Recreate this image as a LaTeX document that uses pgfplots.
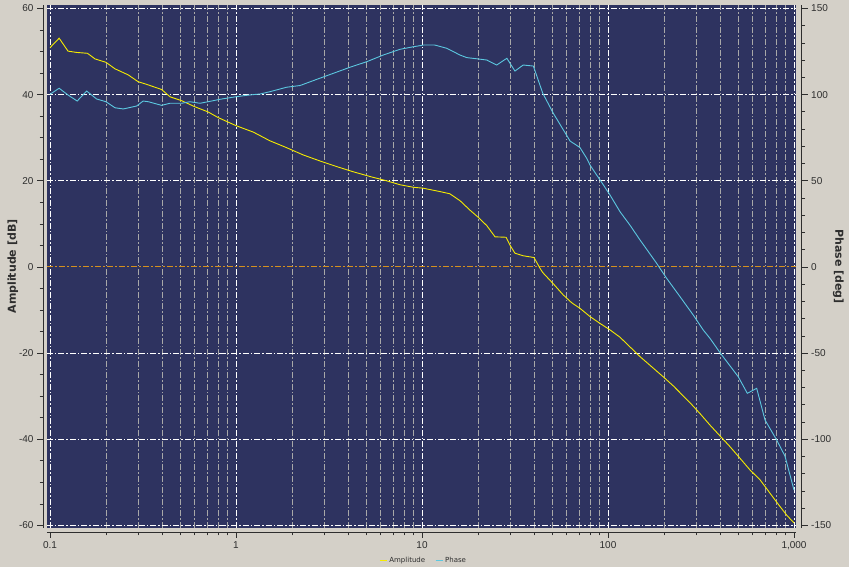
\documentclass[border=0pt]{standalone}
\usepackage{pgfplots}
\pgfplotsset{compat=1.18}
\usepackage{fontspec}
\setmainfont{Liberation Sans}
\newfontfamily\dvs{DejaVu Sans}
\definecolor{bgc}{HTML}{D4D0C8}
\definecolor{navy}{HTML}{2E3360}
\definecolor{amp}{HTML}{F5EB00}
\definecolor{pha}{HTML}{5CC8E0}
\definecolor{zer}{HTML}{D4901E}
\definecolor{gridmin}{HTML}{A8A8A8}
\definecolor{txt}{HTML}{2E2E2E}
\begin{document}
\begin{tikzpicture}
\fill[bgc] (0,0) rectangle (849pt,567pt);
\useasboundingbox (0,0) rectangle (849pt,567pt);
\begin{axis}[
  scale only axis, width=749pt, height=523pt,
  at={(47pt,39pt)}, anchor=south west,
  xmode=log, xmin=0.09636, xmax=1025,
  tick align=outside,
  major tick length=6pt, minor tick length=3.5pt,
  every tick/.style={txt, line width=0.8pt},
  axis line style={txt, line width=0.9pt, -},
  tick label style={font=\fontsize{10}{12}\selectfont, text=txt},
  label style={font=\dvs\bfseries\fontsize{11}{13}\selectfont, text=txt},
  axis x line*=bottom, axis y line*=left,
  axis x line shift=4pt, axis y line shift=4pt,
  axis background/.style={fill=navy},
  ymin=-60.58, ymax=60.81,
  xtick={0.1,1,10,100,1000}, xticklabels={0.1,1,10,100,{1,000}},
  minor xtick={0.2,0.3,0.4,0.5,0.6,0.7,0.8,0.9,2,3,4,5,6,7,8,9,20,30,40,50,60,70,80,90,200,300,400,500,600,700,800,900},
  ytick={-60,-40,-20,0,20,40,60}, yticklabels={-60,-40,-20,0,20,40,60},
  minor y tick num=3,
  xmajorgrids, xminorgrids, ymajorgrids,
  major grid style={white, line width=0.8pt, dash pattern=on 6pt off 2pt on 1.5pt off 2pt},
  minor grid style={gridmin, line width=0.8pt, dash pattern=on 6pt off 2pt on 1.5pt off 2pt},
  ylabel={Amplitude [dB]},
  ylabel style={at={(axis description cs:-0.0457,0.5)}, anchor=center},
]
\addplot[navy, line width=1.6pt, forget plot] coordinates {(0.09636,0) (1025,0)};
\addplot[zer, line width=1pt, dash pattern=on 6pt off 2pt on 2pt off 2pt, forget plot] coordinates {(0.09636,0) (1025,0)};
\addplot[amp, line width=0.9pt] coordinates {
(0.1,50.9) (0.112,53.1) (0.125,50.1) (0.139,49.8) (0.159,49.6) (0.1745,48.3)
(0.2,47.5) (0.2235,46.0) (0.263,44.6) (0.298,43.0) (0.33,42.4) (0.398,41.2)
(0.442,39.5) (0.51,38.6) (0.6,37.2) (0.707,36.0) (0.8,34.7) (1.0,32.8)
(1.24,31.3) (1.52,29.3) (1.87,27.7) (2.3,26.0) (2.83,24.6) (3.48,23.3)
(4.27,22.1) (5.25,21.0) (6.46,20.0) (7.6,19.1) (8.98,18.5) (10.1,18.3)
(12.5,17.5) (14.1,17.0) (16.0,15.4) (18.1,13.2) (20.1,11.5) (22.3,9.6)
(24.7,7.0) (28.3,6.9) (29.7,5.1) (31.6,3.2) (35.0,2.6) (40.0,2.2)
(43.1,-0.3) (44.6,-1.3) (50.8,-3.9) (57.5,-6.5) (63.8,-8.3) (70.7,-9.6)
(80,-11.5) (90.6,-13.1) (102.5,-14.6) (116,-16.3) (148.6,-20.8) (198.3,-25.5)
(224.4,-27.6) (276,-31.5) (312,-34.0) (353.5,-36.7) (400,-39.2) (452.7,-41.7)
(512.5,-44.4) (580,-47.1) (656.5,-49.4) (743,-52.5) (841,-55.6) (913.7,-57.6)
(1000,-59.4)
};
\end{axis}
\begin{axis}[
  scale only axis, width=749pt, height=523pt,
  at={(47pt,39pt)}, anchor=south west,
  xmode=log, xmin=0.09636, xmax=1025,
  tick align=outside,
  major tick length=6pt, minor tick length=3.5pt,
  every tick/.style={txt, line width=0.8pt},
  axis line style={txt, line width=0.9pt, -},
  tick label style={font=\fontsize{10}{12}\selectfont, text=txt},
  label style={font=\dvs\bfseries\fontsize{11}{13}\selectfont, text=txt},
  axis x line=none, axis y line*=right, axis y line shift=5.7pt,
  ymin=-151.45, ymax=152.03,
  ytick={-150,-100,-50,0,50,100,150}, yticklabels={-150,-100,-50,0,50,100,150},
  minor y tick num=4,
  ylabel={Phase [deg]},
  ylabel style={at={(axis description cs:1.0565,0.5)}, anchor=center, rotate=180},
  legend style={at={(axis description cs:0.503,-0.063)}, anchor=center, draw=none, fill=none,
    legend columns=2, font=\dvs\fontsize{7}{8}\selectfont, text=txt,
    /tikz/every even column/.append style={column sep=8pt}},
  legend image code/.code={\draw[#1] (0pt,0pt) -- (7pt,0pt);},
]
\addlegendimage{amp, line width=0.9pt}
\addlegendentry{Amplitude}
\addplot[pha, line width=0.9pt] coordinates {
(0.1,100.2) (0.112,103.7) (0.125,99.8) (0.140,96.3) (0.1575,102.1) (0.178,97.5)
(0.2,95.9) (0.2235,92.4) (0.248,91.7) (0.292,93.4) (0.317,96.3) (0.338,95.9)
(0.398,93.8) (0.442,95.0) (0.51,95.0) (0.565,95.9) (0.641,95.0) (0.707,95.9)
(0.82,97.3) (1.0,98.8) (1.18,99.8) (1.35,100.4) (1.52,101.7) (1.87,104.3)
(2.21,105.3) (2.72,108.9) (3.34,112.4) (4.1,115.9) (5.04,119.1) (6.19,123.0)
(7.61,126.3) (8.98,127.8) (10.2,128.8) (11.7,128.8) (13.6,126.9) (16.0,123.0)
(17.4,121.5) (20.1,120.7) (22.3,120.1) (25.2,117.2) (28.6,121.1) (31.6,113.7)
(35.0,117.2) (39.7,116.6) (44.6,100.8) (50.8,89.2) (55.2,82.8) (62.5,73.1)
(70.7,69.3) (76.8,63.1) (80,59.2) (90.6,50.5) (102.5,41.8) (116,32.1)
(131,24.4) (148.6,15.7) (182.7,2.1) (206.8,-6.6) (243.8,-17.2) (287.4,-27.9)
(325.4,-36.6) (353.5,-41.4) (400,-49.7) (501.7,-63.7) (561,-73.3) (630,-70.4)
(698.6,-88.8) (807,-100.4) (894,-109.7) (1000,-129.4)
};
\addlegendentry{Phase}
\end{axis}
\end{tikzpicture}
\end{document}
